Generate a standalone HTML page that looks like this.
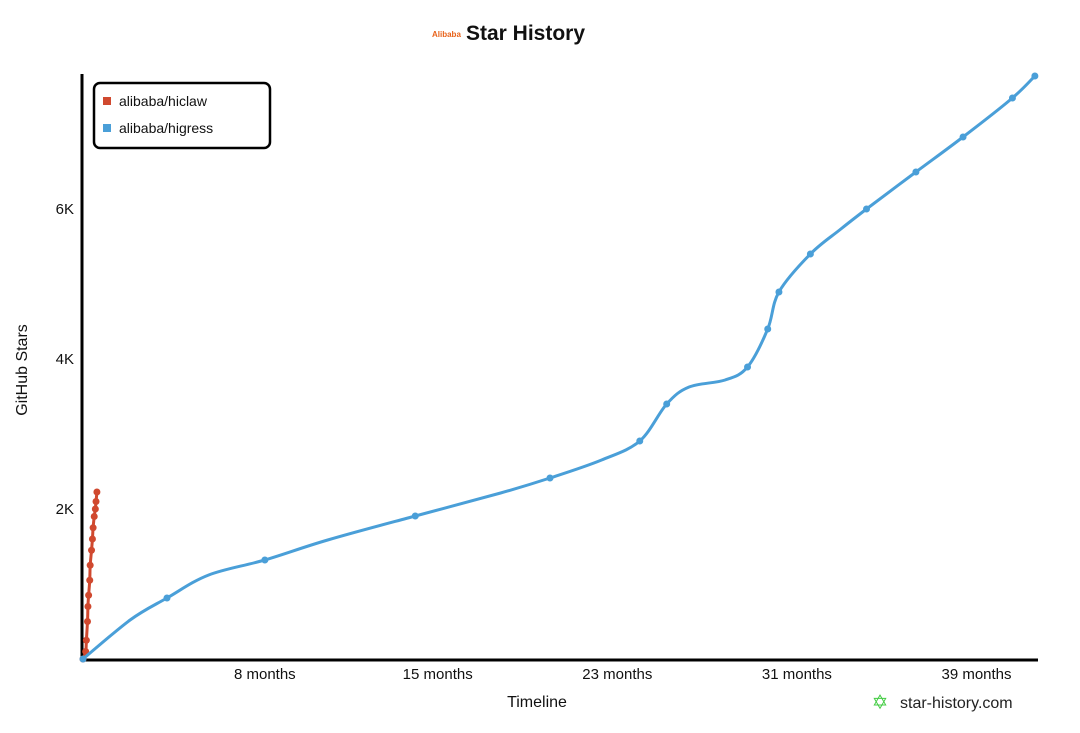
<!DOCTYPE html>
<html><head><meta charset="utf-8"><style>
body{margin:0;background:#fff;width:1080px;height:728px;overflow:hidden;font-family:"Liberation Sans",sans-serif}
svg text{font-family:"Liberation Sans",sans-serif}
</style></head><body>
<svg id="chart" width="1080" height="728">
<text x="466" y="40" font-size="21" font-weight="bold" fill="#111">Star History</text>
<text x="432" y="37" font-size="8" fill="#e8621a" font-weight="bold">Alibaba</text>
<g id="axes"></g>
<g id="series"></g>
<g>
<rect x="94" y="83" width="176" height="65" rx="6" fill="#fff" stroke="#000" stroke-width="2.5"/>
<rect x="103" y="97" width="8" height="8" fill="#d0492f"/>
<text x="119" y="106" font-size="14" fill="#111">alibaba/hiclaw</text>
<rect x="103" y="124" width="8" height="8" fill="#4a9fd8"/>
<text x="119" y="133" font-size="14" fill="#111">alibaba/higress</text>
</g>
<text x="537" y="707" font-size="16" text-anchor="middle" fill="#111">Timeline</text>
<text transform="translate(27,370) rotate(-90)" font-size="16" text-anchor="middle" fill="#111">GitHub Stars</text>
<g>
<text x="880" y="709" font-size="20" fill="#4c4" text-anchor="middle">✡</text>
<text x="900" y="708" font-size="16" fill="#222">star-history.com</text>
</g>
</svg>
<script>
const tickMonths=[8.1,15.8,23.8,31.8,39.8];
const tickLabels=["8 months","15 months","23 months","31 months","39 months"];
const yTicks=[2000,4000,6000];
const yTickLabels=["2K","4K","6K"];
const higressMonths=[0,2.1,3.74,5.6,8.1,10.9,14.8,18.6,20.8,23.1,24.8,26.0,27.0,28.6,29.6,30.5,31.0,32.4,33.7,34.9,37.1,39.2,41.4,42.4];
const higressStars=[0,520,813,1120,1320,1587,1907,2213,2413,2653,2907,3400,3627,3720,3893,4400,4893,5400,5720,6000,6493,6960,7480,7773];
const higressDots=[0,2,4,6,8,10,11,14,15,16,17,19,20,21,22,23];
const hiclawMonths=[0,0.12,0.15,0.2,0.22,0.25,0.3,0.32,0.38,0.42,0.45,0.5,0.55,0.58,0.62];
const hiclawStars=[0,100,250,500,700,850,1050,1250,1450,1600,1750,1900,2000,2100,2227];
const X=m=>83+m*22.45, Y=v=>659-v*0.075;
const NS="http://www.w3.org/2000/svg";
function mk(t,a,p){const e=document.createElementNS(NS,t);for(const k in a)e.setAttribute(k,a[k]);p.appendChild(e);return e;}
const ax=document.getElementById('axes');
const xl=mk('path',{d:`M83 660 L1038 660`,stroke:'#000','stroke-width':3,fill:'none'},ax);


const yl=mk('path',{d:`M82 660 L82 74`,stroke:'#000','stroke-width':3,fill:'none'},ax);


tickMonths.forEach((m,i)=>{
 const t=mk('text',{x:X(m),y:679,'font-size':15,'text-anchor':'middle',fill:'#111'},ax);t.textContent=tickLabels[i];
 
 
});
yTicks.forEach((v,i)=>{
 const t=mk('text',{x:74,y:Y(v)+5,'font-size':15,'text-anchor':'end',fill:'#111'},ax);t.textContent=yTickLabels[i];
 
 
});
const sg=document.getElementById('series');
function smooth(pts){
 let d='M'+pts[0][0].toFixed(1)+' '+pts[0][1].toFixed(1);
 for(let i=0;i<pts.length-1;i++){
  const p0=pts[Math.max(0,i-1)],p1=pts[i],p2=pts[i+1],p3=pts[Math.min(pts.length-1,i+2)];
  const c1=[p1[0]+(p2[0]-p0[0])/6,p1[1]+(p2[1]-p0[1])/6];
  const c2=[p2[0]-(p3[0]-p1[0])/6,p2[1]-(p3[1]-p1[1])/6];
  d+=` C${c1[0].toFixed(1)} ${c1[1].toFixed(1)} ${c2[0].toFixed(1)} ${c2[1].toFixed(1)} ${p2[0].toFixed(1)} ${p2[1].toFixed(1)}`;
 }
 return d;
}
function series(ms,vs,col,name,dots){
 const pts=ms.map((m,i)=>[X(m),Y(vs[i])]);
 const p=mk('path',{d:smooth(pts),stroke:col,'stroke-width':3,fill:'none','stroke-linejoin':'round','stroke-linecap':'round'},sg);
 
 
 (dots||ms.map((_,i)=>i)).forEach(i=>{
  const c=mk('circle',{cx:X(ms[i]),cy:Y(vs[i]),r:3.5,fill:col},sg);
  
  
 });
}
series(hiclawMonths,hiclawStars,'#d0492f','hiclaw');
series(higressMonths,higressStars,'#4a9fd8','higress',higressDots);
</script>
</body></html>
